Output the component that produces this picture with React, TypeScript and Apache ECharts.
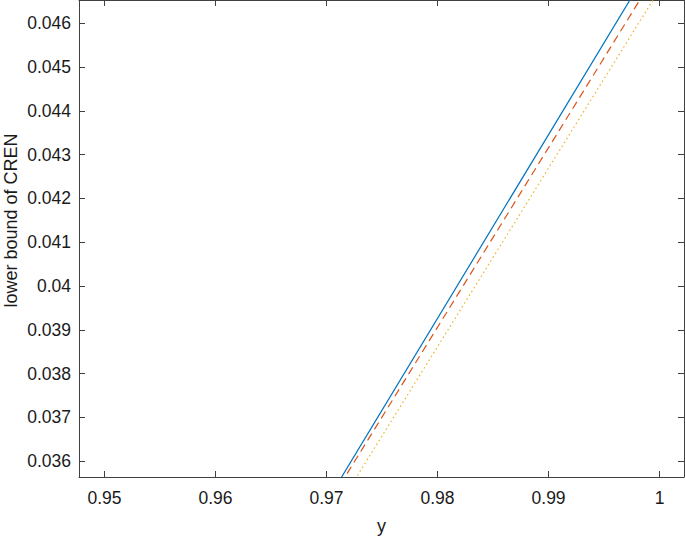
import React, { useEffect, useRef } from "react";
import * as echarts from "echarts";

// x positions where each straight line is sampled (lines are clipped by the axes box)
const xSamples = [0.97, 1.0];
const blueValues = [0.03507, 0.04765];
const redValues = [0.03496, 0.04726];
const orangeValues = [0.03454, 0.04677];

const xRange = [0.9477, 1.0022];
const yRange = [0.03564, 0.04653];

const FONT = "Liberation Sans, Arial, Helvetica, sans-serif";
const AXIS_COLOR = "#404040";

const fmtX = (v: number) => {
  const r = Math.round(v * 100) / 100;
  return Math.abs(v - r) < 1e-7 ? String(r) : "";
};
const fmtY = (v: number) => {
  const r = Math.round(v * 1000) / 1000;
  return Math.abs(v - r) < 1e-8 ? String(r) : "";
};

export default function App() {
  const ref = useRef<HTMLDivElement>(null);
  useEffect(() => {
    if (!ref.current) return;
    const chart = echarts.init(ref.current, undefined, { renderer: "svg" });
    const pairs = (ys: number[]) => xSamples.map((x, i) => [x, ys[i]]);
    const axisCommon = {
      type: "value" as const,
      axisLine: { show: true, onZero: false, lineStyle: { color: AXIS_COLOR, width: 1 } },
      axisTick: { show: true, inside: true, length: 6, lineStyle: { color: AXIS_COLOR, width: 1 } },
      splitLine: { show: false },
    };
    chart.setOption({
      animation: false,
      backgroundColor: "#ffffff",
      grid: {
        left: 79,
        right: 1,
        top: 0,
        bottom: 59,
        containLabel: false,
        outerBoundsMode: "none",
      },
      xAxis: [
        {
          ...axisCommon,
          min: xRange[0],
          max: xRange[1],
          splitNumber: 5,
          position: "bottom",
          name: "y",
          nameLocation: "middle",
          nameGap: 40,
          nameMoveOverlap: false,
          nameTextStyle: { fontFamily: FONT, fontSize: 18, color: "#1a1a1a" },
          axisLabel: {
            show: true,
            margin: 12,
            fontFamily: FONT,
            fontSize: 17.5,
            color: "#1a1a1a",
            formatter: fmtX,
            showMinLabel: false,
            showMaxLabel: false,
          },
        },
        {
          ...axisCommon,
          min: xRange[0],
          max: xRange[1],
          splitNumber: 5,
          position: "top",
          axisLabel: { show: false },
        },
      ],
      yAxis: [
        {
          ...axisCommon,
          min: yRange[0],
          max: yRange[1],
          splitNumber: 10,
          position: "left",
          name: "lower bound of CREN",
          nameLocation: "middle",
          nameGap: 59,
          nameMoveOverlap: false,
          nameTextStyle: {
            fontFamily: FONT,
            fontSize: 18,
            color: "#1a1a1a",
            padding: [0, 0, 0, 36],
          },
          axisLabel: {
            show: true,
            margin: 8,
            fontFamily: FONT,
            fontSize: 17.5,
            color: "#1a1a1a",
            formatter: fmtY,
            showMinLabel: false,
            showMaxLabel: false,
          },
        },
        {
          ...axisCommon,
          min: yRange[0],
          max: yRange[1],
          splitNumber: 10,
          position: "right",
          axisLabel: { show: false },
        },
      ],
      series: [
        {
          type: "line",
          data: pairs(blueValues),
          showSymbol: false,
          clip: true,
          lineStyle: { color: "#0072BD", width: 1.2, type: "solid" },
        },
        {
          type: "line",
          data: pairs(redValues),
          showSymbol: false,
          clip: true,
          lineStyle: { color: "#D95319", width: 1.2, type: [8, 5] },
        },
        {
          type: "line",
          data: pairs(orangeValues),
          showSymbol: false,
          clip: true,
          lineStyle: { color: "#EDB120", width: 1.2, type: [1.5, 3] },
        },
      ],
    });
    return () => chart.dispose();
  }, []);
  return (
    <div
      ref={ref}
      style={{ position: "fixed", left: 0, top: 0, width: 685, height: 536, background: "#fff" }}
    />
  );
}
